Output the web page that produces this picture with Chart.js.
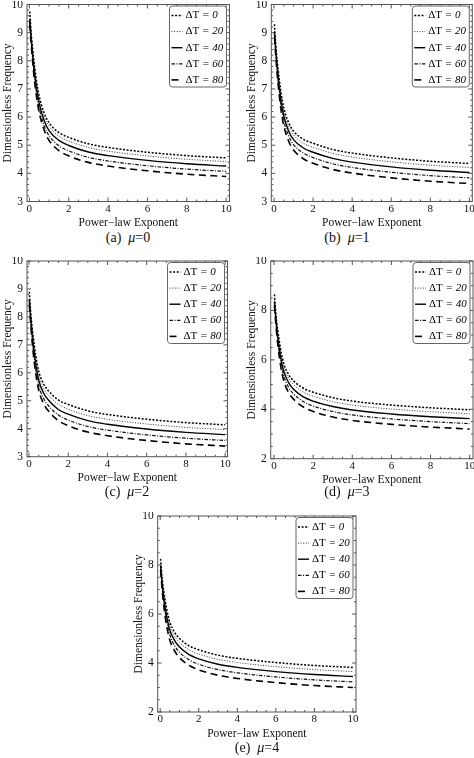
<!DOCTYPE html>
<html><head><meta charset="utf-8">
<script src="https://cdn.jsdelivr.net/npm/chart.js@4.4.1/dist/chart.umd.min.js"></script>
<style>
html,body{margin:0;padding:0;background:#fff;width:474px;height:758px;overflow:hidden;position:relative;font-family:"Liberation Serif","DejaVu Serif",serif;}
canvas{position:absolute;}
.cap{position:absolute;font-size:14px;color:#111;white-space:pre;transform:translate(-50%,-50%);}
</style></head><body>
<script>
// ---------- data ----------
const xValues = [0.02, 0.1, 0.2, 0.35, 0.5, 0.75, 1, 1.5, 2, 3, 4, 6, 8, 10];
const deltaTLabels = ['0', '20', '40', '60', '80'];
const xTickValues = [0, 2, 4, 6, 8, 10];
const yTicksFrom3 = [3, 4, 5, 6, 7, 8, 9, 10];
const yTicksFrom2 = [2, 4, 6, 8, 10];
const panelLetters = ['(a)', '(b)', '(c)', '(d)', '(e)'];
const muValues = ['0', '1', '2', '3', '4'];

// mu = 0
const mu0_T0  = [9.75, 8.9, 8.2, 7.35, 6.75, 6.15, 5.8, 5.45, 5.28, 5.05, 4.92, 4.75, 4.63, 4.55];
const mu0_T20 = [9.5, 8.83, 8.10, 7.24, 6.63, 6.03, 5.68, 5.32, 5.15, 4.92, 4.79, 4.62, 4.50, 4.42];
const mu0_T40 = [9.45, 8.74, 7.98, 7.10, 6.49, 5.88, 5.52, 5.17, 4.99, 4.76, 4.63, 4.46, 4.34, 4.26];
const mu0_T60 = [9.4, 8.64, 7.84, 6.94, 6.32, 5.70, 5.34, 4.98, 4.80, 4.57, 4.44, 4.27, 4.15, 4.07];
const mu0_T80 = [9.3, 8.54, 7.70, 6.79, 6.16, 5.54, 5.17, 4.81, 4.62, 4.39, 4.26, 4.09, 3.97, 3.89];
// mu = 1
const mu1_T0  = [9.3, 8.45, 7.75, 6.9, 6.33, 5.8, 5.5, 5.21, 5.07, 4.85, 4.72, 4.55, 4.43, 4.35];
const mu1_T20 = [9.05, 8.37, 7.64, 6.78, 6.20, 5.67, 5.37, 5.07, 4.93, 4.71, 4.58, 4.41, 4.29, 4.21];
const mu1_T40 = [9.0, 8.27, 7.51, 6.63, 6.04, 5.50, 5.20, 4.90, 4.75, 4.53, 4.40, 4.23, 4.11, 4.03];
const mu1_T60 = [8.95, 8.17, 7.37, 6.47, 5.87, 5.33, 5.02, 4.72, 4.56, 4.34, 4.21, 4.04, 3.92, 3.84];
const mu1_T80 = [8.85, 8.06, 7.22, 6.30, 5.69, 5.14, 4.83, 4.52, 4.36, 4.14, 4.01, 3.84, 3.72, 3.64];
// mu = 2
const mu2_T0  = [8.9, 8.05, 7.4, 6.6, 6.05, 5.6, 5.35, 5.03, 4.87, 4.64, 4.51, 4.34, 4.22, 4.14];
const mu2_T20 = [8.65, 7.96, 7.27, 6.46, 5.90, 5.44, 5.19, 4.87, 4.70, 4.47, 4.34, 4.17, 4.05, 3.97];
const mu2_T40 = [8.6, 7.86, 7.14, 6.30, 5.73, 5.27, 5.02, 4.69, 4.52, 4.29, 4.16, 3.99, 3.87, 3.79];
const mu2_T60 = [8.55, 7.74, 6.98, 6.12, 5.55, 5.08, 4.82, 4.49, 4.31, 4.08, 3.95, 3.78, 3.66, 3.58];
const mu2_T80 = [8.45, 7.63, 6.83, 5.95, 5.37, 4.89, 4.63, 4.29, 4.11, 3.88, 3.75, 3.58, 3.46, 3.38];
// mu = 3
const mu3_T0  = [8.65, 7.8, 7.15, 6.37, 5.85, 5.4, 5.15, 4.85, 4.69, 4.47, 4.33, 4.17, 4.06, 3.98];
const mu3_T20 = [8.4, 7.71, 7.03, 6.23, 5.71, 5.25, 5.00, 4.69, 4.53, 4.31, 4.17, 4.01, 3.90, 3.82];
const mu3_T40 = [8.35, 7.60, 6.88, 6.06, 5.53, 5.07, 4.81, 4.50, 4.33, 4.11, 3.97, 3.81, 3.70, 3.62];
const mu3_T60 = [8.3, 7.49, 6.73, 5.89, 5.35, 4.88, 4.62, 4.31, 4.13, 3.91, 3.77, 3.61, 3.50, 3.42];
const mu3_T80 = [8.2, 7.37, 6.56, 5.71, 5.15, 4.67, 4.41, 4.09, 3.91, 3.69, 3.55, 3.39, 3.28, 3.20];
// mu = 4
const mu4_T0  = [8.25, 7.45, 6.85, 6.15, 5.67, 5.25, 5.0, 4.7, 4.54, 4.32, 4.19, 4.02, 3.90, 3.82];
const mu4_T20 = [8.0, 7.36, 6.72, 6.01, 5.52, 5.09, 4.84, 4.54, 4.37, 4.15, 4.02, 3.85, 3.73, 3.65];
const mu4_T40 = [7.95, 7.25, 6.57, 5.84, 5.34, 4.91, 4.65, 4.34, 4.17, 3.95, 3.82, 3.65, 3.53, 3.45];
const mu4_T60 = [7.9, 7.13, 6.41, 5.65, 5.14, 4.70, 4.44, 4.13, 3.95, 3.73, 3.60, 3.43, 3.31, 3.23];
const mu4_T80 = [7.8, 7.0, 6.23, 5.45, 4.93, 4.49, 4.22, 3.90, 3.72, 3.50, 3.37, 3.20, 3.08, 3.00];

const panelSeries = [
  [mu0_T0, mu0_T20, mu0_T40, mu0_T60, mu0_T80],
  [mu1_T0, mu1_T20, mu1_T40, mu1_T60, mu1_T80],
  [mu2_T0, mu2_T20, mu2_T40, mu2_T60, mu2_T80],
  [mu3_T0, mu3_T20, mu3_T40, mu3_T60, mu3_T80],
  [mu4_T0, mu4_T20, mu4_T40, mu4_T60, mu4_T80]
];

// ---------- layout / styles ----------
const layoutBoxes = [
  {L:27,    R:229.5, T:4.5, B:201.5, yMin:3, yMax:10, yTicks:yTicksFrom3, yMinor:0.2, xMin:-0.12, xMax:10.17, capX:128, capY:238},
  {L:271.3, R:472.3, T:4.5, B:201.5, yMin:3, yMax:10, yTicks:yTicksFrom3, yMinor:0.2, xMin:-0.14, xMax:10.15, capX:347, capY:238},
  {L:27,    R:227.5, T:261, B:456.7, yMin:3, yMax:10, yTicks:yTicksFrom3, yMinor:0.2, xMin:-0.1,  xMax:10.12, capX:127, capY:492},
  {L:270.7, R:473,   T:261, B:458.7, yMin:2, yMax:10, yTicks:yTicksFrom2, yMinor:0.5, xMin:-0.17, xMax:10.17, capX:347, capY:492},
  {L:157.7, R:356,   T:516, B:712,   yMin:2, yMax:10, yTicks:yTicksFrom2, yMinor:0.5, xMin:-0.13, xMax:10.16, capX:257, capY:748}
];
const lineStyles = [
  {borderColor:'#000', borderWidth:1.5, borderDash:[2,1.6]},
  {borderColor:'#333', borderWidth:1.0, borderDash:[1,1.6]},
  {borderColor:'#000', borderWidth:1.4, borderDash:[]},
  {borderColor:'#111', borderWidth:1.2, borderDash:[3.5,1.5,1,1.5]},
  {borderColor:'#000', borderWidth:1.6, borderDash:[7,4.5]}
];
const FONT = '"Liberation Serif", "DejaVu Serif", serif';

function framePlugin(box){
  return {
    id:'frameTicks',
    beforeDatasetsDraw(chart){
      const {ctx, chartArea:a, scales:{x, y}} = chart;
      ctx.save();
      ctx.strokeStyle = '#555'; ctx.lineWidth = 1; ctx.setLineDash([]);
      ctx.strokeRect(a.left, a.top, a.right - a.left, a.bottom - a.top);
      ctx.beginPath();
      for (let v = 0; v <= 10.0001; v += 0.5) {
        const px = x.getPixelForValue(v);
        const major = xTickValues.some(t => Math.abs(t - v) < 1e-6);
        const len = major ? 4 : 2;
        ctx.moveTo(px, a.bottom); ctx.lineTo(px, a.bottom - len);
        ctx.moveTo(px, a.top); ctx.lineTo(px, a.top + len);
      }
      for (let v = box.yMin; v <= box.yMax + 1e-6; v += box.yMinor) {
        const py = y.getPixelForValue(v);
        const major = box.yTicks.some(t => Math.abs(t - v) < 1e-6);
        const len = major ? 4 : 2;
        ctx.moveTo(a.left, py); ctx.lineTo(a.left + len, py);
        ctx.moveTo(a.right, py); ctx.lineTo(a.right - len, py);
      }
      ctx.stroke();
      ctx.restore();
    },
    afterDatasetsDraw(chart){
      const {ctx, chartArea:a} = chart;
      const w = 57, h = 81, right = a.right - 3, top = a.top + 1.5, left = right - w;
      ctx.save();
      ctx.beginPath();
      if (ctx.roundRect) ctx.roundRect(left, top, w, h, 3); else ctx.rect(left, top, w, h);
      ctx.fillStyle = '#fff'; ctx.fill();
      ctx.lineWidth = 1; ctx.strokeStyle = '#666'; ctx.setLineDash([]); ctx.stroke();
      chart.data.datasets.forEach((ds, i) => {
        const yy = top + 9.5 + i * 16.1;
        ctx.beginPath();
        ctx.setLineDash(ds.borderDash || []);
        ctx.lineWidth = ds.borderWidth; ctx.strokeStyle = ds.borderColor;
        ctx.moveTo(left + 2, yy); ctx.lineTo(left + 13, yy); ctx.stroke();
        ctx.setLineDash([]);
        ctx.fillStyle = '#000'; ctx.textBaseline = 'middle'; ctx.textAlign = 'left';
        ctx.font = '11px ' + FONT;
        ctx.fillText('\u0394T ', left + 16, yy);
        const w1 = ctx.measureText('\u0394T ').width;
        ctx.font = 'italic 11px ' + FONT;
        ctx.fillText('= ' + deltaTLabels[i], left + 16 + w1, yy);
      });
      ctx.restore();
    }
  };
}

layoutBoxes.forEach((box, pi) => {
  const cLeft = Math.round(box.L - 27);
  const cTop = Math.round(box.T - 4);
  const yAxisW = box.L - cLeft;
  const padTop = box.T - cTop;
  const W = Math.round(Math.min(474 - cLeft, box.R - cLeft + 6));
  const padRight = W - (box.R - cLeft);
  const H = Math.round(box.B - cTop + 28.5);
  const xAxisH = H - (box.B - cTop);

  const cv = document.createElement('canvas');
  cv.style.left = cLeft + 'px'; cv.style.top = cTop + 'px';
  cv.style.width = W + 'px'; cv.style.height = H + 'px';
  cv.width = W; cv.height = H;
  document.body.appendChild(cv);

  const datasets = panelSeries[pi].map((vals, si) => Object.assign({
    label: '\u0394T = ' + deltaTLabels[si],
    data: xValues.map((xv, k) => ({x: xv, y: vals[k]})),
    pointRadius: 0,
    fill: false,
    cubicInterpolationMode: 'monotone'
  }, lineStyles[si]));

  new Chart(cv, {
    type: 'line',
    data: {datasets},
    options: {
      responsive: false,
      animation: false,
      devicePixelRatio: window.devicePixelRatio || 1,
      layout: {padding: {top: padTop, right: padRight, left: 0, bottom: 0}},
      plugins: {legend: {display: false}, tooltip: {enabled: false}},
      scales: {
        x: {
          type: 'linear', min: box.xMin, max: box.xMax,
          grid: {display: false, drawTicks: false}, border: {display: false},
          afterBuildTicks: s => { s.ticks = xTickValues.map(v => ({value: v})); },
          afterFit: s => { s.height = xAxisH; s.paddingLeft = 0; s.paddingRight = 0; },
          ticks: {color: '#111', padding: 1, maxRotation: 0, autoSkip: false, font: {family: FONT, size: 11}},
          title: {display: true, text: 'Power\u2212law Exponent', color: '#111', padding: 0, font: {family: FONT, size: 11.5}}
        },
        y: {
          type: 'linear', min: box.yMin, max: box.yMax,
          grid: {display: false, drawTicks: false}, border: {display: false},
          afterBuildTicks: s => { s.ticks = box.yTicks.map(v => ({value: v})); },
          afterFit: s => { s.width = yAxisW; s.paddingTop = 0; s.paddingBottom = 0; },
          ticks: {color: '#111', padding: 4, autoSkip: false, font: {family: FONT, size: 11.5}},
          title: {display: true, text: 'Dimensionless Frequency', color: '#111', padding: {top: 1, bottom: 0}, font: {family: FONT, size: 11.5}}
        }
      }
    },
    plugins: [framePlugin(box)]
  });

  const cap = document.createElement('div');
  cap.className = 'cap';
  cap.style.left = box.capX + 'px'; cap.style.top = box.capY + 'px';
  cap.innerHTML = panelLetters[pi] + '&nbsp;&nbsp;<i>\u03bc</i>=' + muValues[pi];
  document.body.appendChild(cap);
});
</script>
</body></html>
